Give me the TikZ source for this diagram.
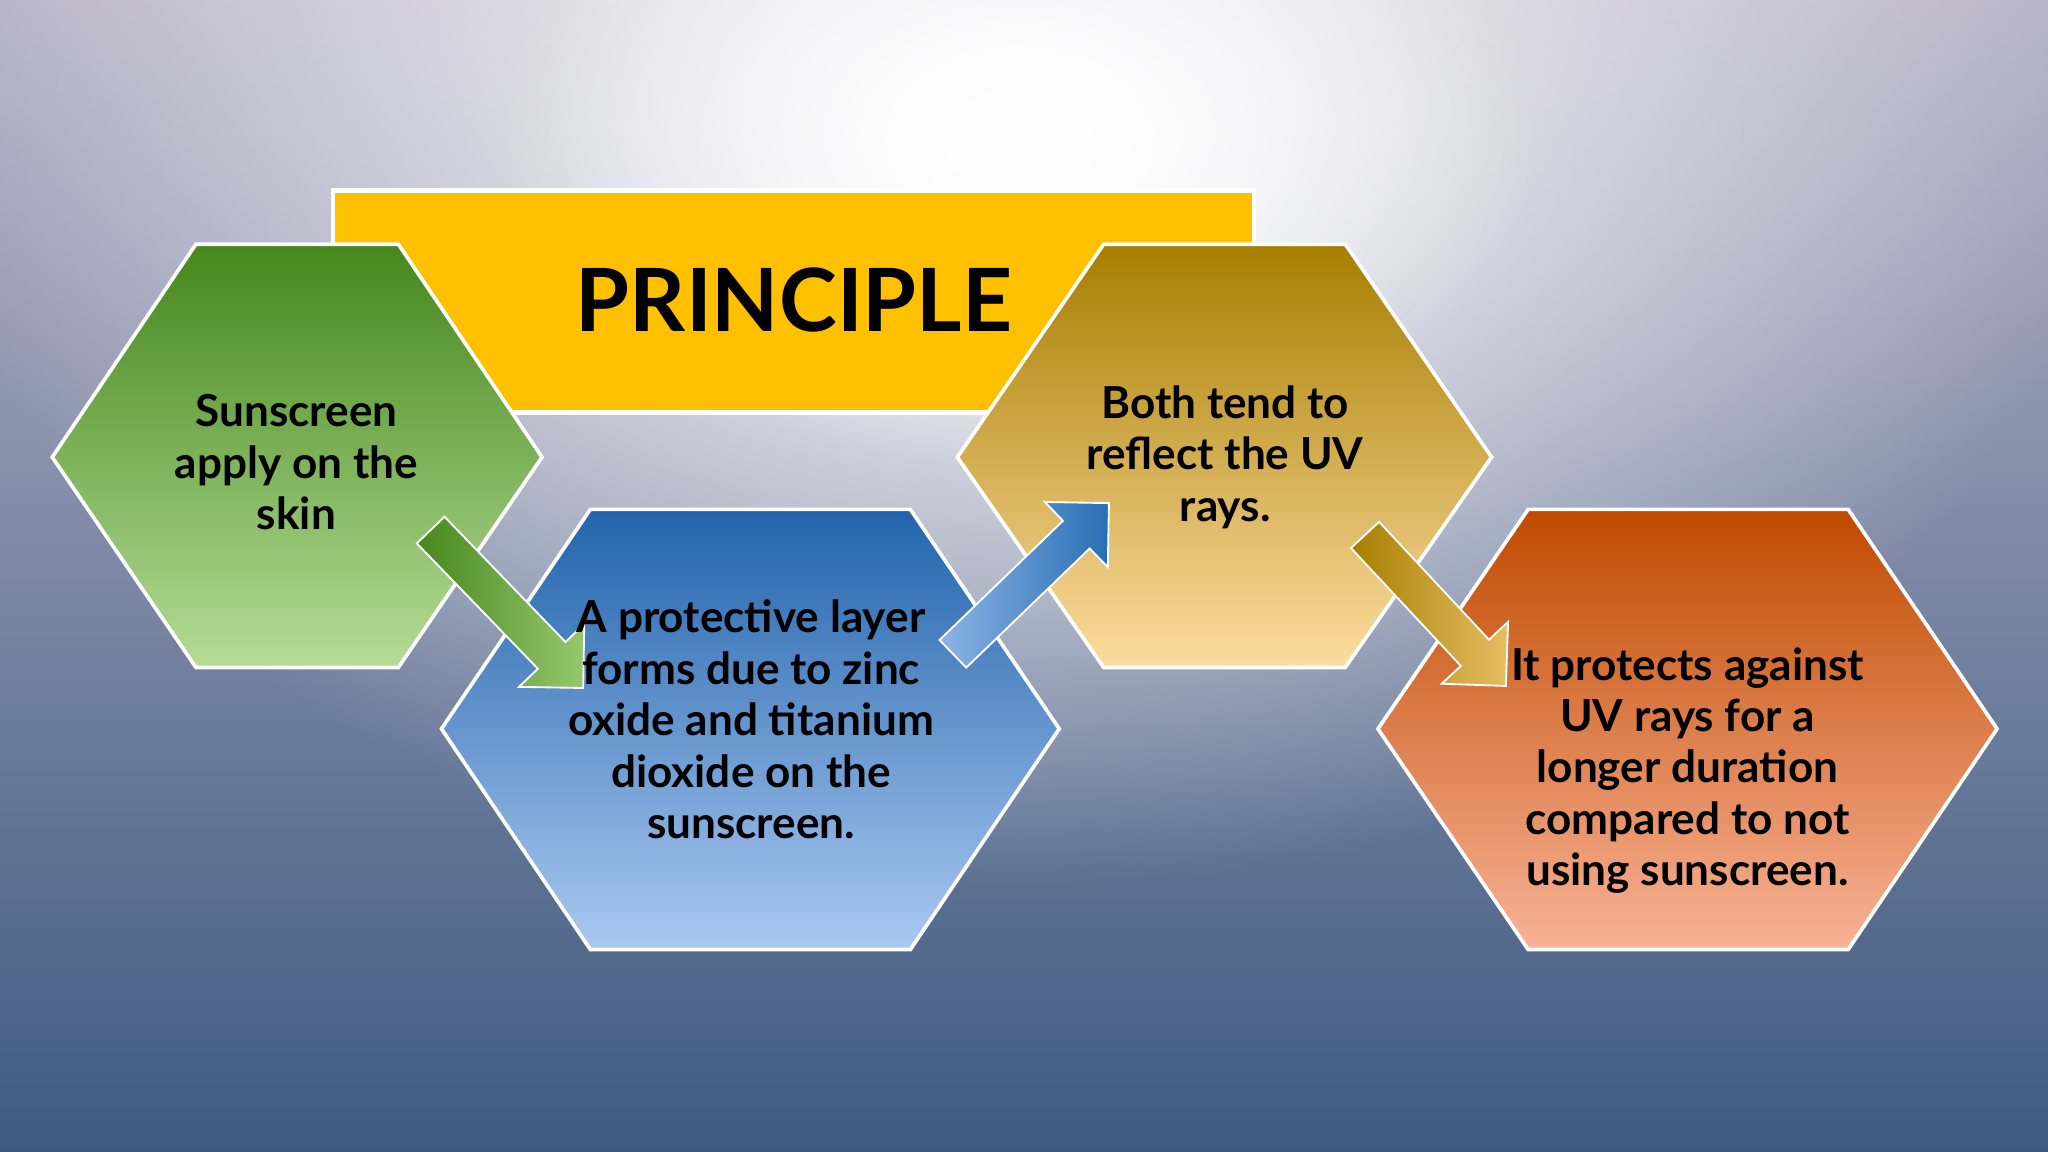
\documentclass[tikz,border=0pt]{standalone}
\usepackage{fontspec}
\setmainfont{Lato}
\usetikzlibrary{shapes.arrows,fadings}
\tikzfading[name=radfade, inner color=transparent!0, outer color=transparent!100]
\definecolor{bgbot}{HTML}{3E5A80}
\definecolor{bgtop}{HTML}{B8B4C8}
\definecolor{ylw}{HTML}{FFC000}
\begin{document}
\begin{tikzpicture}[x=0.01cm,y=-0.01cm,
  hex/.style={draw=white, line width=0.8pt},
  txt/.style={align=center, font=\fontsize{9.6}{11.2}\selectfont\bfseries, text=black},
  barrow/.style={single arrow, draw=white, line width=0.4pt, inner sep=0.14cm,
     single arrow head extend=0.2cm, minimum width=0.68cm, shape border uses incircle=false}]
\useasboundingbox (0,0) rectangle (1568,882);
\shade[top color=bgtop, bottom color=bgbot] (0,0) rectangle (1568,882);
\fill[white, path fading=radfade] (780,120) ellipse (820 and 560);
\fill[white, path fading=radfade] (780,100) ellipse (400 and 260);
% title box
\fill[ylw, draw=white, line width=1pt] (255,146) rectangle (960,316);
\node (title) at (608,230) {\fontsize{19}{22}\selectfont\bfseries PRINCIPLE};
% hexagons
\shade[hex, top color={rgb,255:red,70;green,135;blue,28}, bottom color={rgb,255:red,180;green,220;blue,150}]
  (40,350) -- (150,187) -- (305,187) -- (415,350) -- (305,511) -- (150,511) -- cycle;
\shade[hex, top color={rgb,255:red,34;green,100;blue,172}, bottom color={rgb,255:red,170;green,200;blue,240}]
  (338,558) -- (452,390) -- (697,390) -- (811,558) -- (697,727) -- (452,727) -- cycle;
\shade[hex, top color={rgb,255:red,168;green,126;blue,0}, bottom color={rgb,255:red,252;green,220;blue,160}]
  (733,350) -- (845,187) -- (1030,187) -- (1142,350) -- (1030,511) -- (845,511) -- cycle;
\shade[hex, top color={rgb,255:red,192;green,74;blue,0}, bottom color={rgb,255:red,248;green,178;blue,150}]
  (1055,558) -- (1170,390) -- (1415,390) -- (1529,558) -- (1415,727) -- (1170,727) -- cycle;
% arrows
\node[barrow, minimum height=1.68cm, rotate=-46, left color={rgb,255:red,70;green,135;blue,28}, right color={rgb,255:red,150;green,200;blue,110}] (a1) at (383,461) {};
\node[barrow, minimum height=1.66cm, rotate=44, left color={rgb,255:red,140;green,180;blue,230}, right color={rgb,255:red,40;green,110;blue,180}] (a2) at (784,448) {};
\node[barrow, minimum height=1.58cm, rotate=-47, left color={rgb,255:red,168;green,126;blue,0}, right color={rgb,255:red,230;green,190;blue,100}] (a3) at (1094,462) {};
% texts
\node[txt] (t1) at (227,354) {Sunscreen\\apply on the\\skin};
\node[txt] (t2) at (575,551) {A protective layer\\forms due to zinc\\oxide and titanium\\dioxide on the\\sunscreen.};
\node[txt] (t3) at (938,350) {Both tend to\\reflect the UV\\rays.};
\node[txt] (t4) at (1292,590) {It protects against\\UV rays for a\\longer duration\\compared to not\\using sunscreen.};
\end{tikzpicture}
\end{document}
